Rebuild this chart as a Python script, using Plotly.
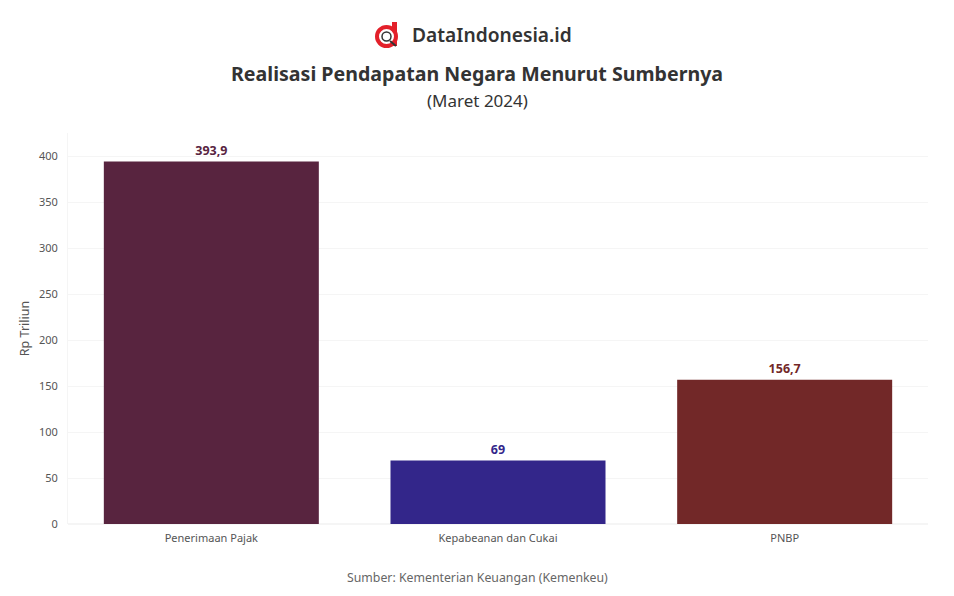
import plotly.graph_objects as go

categories = ["Penerimaan Pajak", "Kepabeanan dan Cukai", "PNBP"]
values = [393.9, 69, 156.7]
value_labels = ["393,9", "69", "156,7"]
bar_colors = ["#58243F", "#33268A", "#722828"]
y_ticks = [0, 50, 100, 150, 200, 250, 300, 350, 400]

# halaman punya margin 8px, jadi ukuran figure dikurangi
PAGE = 8
W = 954 - PAGE
H = 596 - PAGE - 8
M_L = 68 - PAGE
M_T = 133 - PAGE
M_R = 26
M_B = H - (524 - PAGE)
FONT = "Noto Sans"

fig = go.Figure(go.Bar(
    x=categories,
    y=values,
    width=0.75,
    marker=dict(color=bar_colors, line_width=0),
    text=value_labels,
    textposition="outside",
    cliponaxis=False,
    textfont=dict(family=FONT, size=12.5, color=bar_colors, weight=700),
))

fig.update_layout(
    width=W,
    height=H,
    margin=dict(l=M_L, r=M_R, t=M_T, b=M_B),
    paper_bgcolor="white",
    plot_bgcolor="white",
    font=dict(family=FONT, color="#555555"),
    showlegend=False,
)
fig.update_xaxes(
    showgrid=False,
    ticks="",
    tickfont=dict(size=11, color="#555555"),
    showline=False,
    ticklabelstandoff=6,
)
fig.update_yaxes(
    range=[0, 425],
    tickvals=y_ticks,
    gridcolor="#F5F5F5",
    zeroline=True,
    zerolinecolor="#F5F5F5",
    showline=True,
    linecolor="#F5F5F5",
    ticklabelstandoff=7,
    tickfont=dict(size=11, color="#555555"),
    title=dict(text="Rp Triliun", font=dict(size=12.5, color="#555555"), standoff=6),
)


# koordinat piksel halaman ke koordinat paper
def px(x):
    return (x - 68) / (W - M_L - M_R)


def py(y):
    return (524 - y) / (H - M_T - M_B)


def add_text(text, x, y, size, color="#333333", anchor="center", weight=None):
    fig.add_annotation(text=text, x=px(x), y=py(y), xref="paper", yref="paper",
                       xanchor=anchor, yanchor="middle", showarrow=False,
                       font=dict(size=size, color=color, weight=weight))


# judul dan sumber
add_text("DataIndonesia.id", 410, 35, 19.2, anchor="left", weight=600)
add_text("Realisasi Pendapatan Negara Menurut Sumbernya", 477, 74, 19.6, weight=700)
add_text("(Maret 2024)", 477, 100, 17)
add_text("Sumber: Kementerian Keuangan (Kemenkeu)", 477, 577, 12.3, color="#666666")

# logo
fig.add_shape(type="rect", xref="paper", yref="paper", x0=px(392), x1=px(397), y0=py(46), y1=py(22),
              fillcolor="#E3202A", line_width=0)
fig.add_shape(type="circle", xref="paper", yref="paper", x0=px(377), x1=px(396), y0=py(46), y1=py(27),
              fillcolor="white", line=dict(color="#E3202A", width=4))
fig.add_shape(type="circle", xref="paper", yref="paper", x0=px(382), x1=px(391), y0=py(41), y1=py(32),
              fillcolor="white", line=dict(color="#333333", width=1.5))
fig.add_shape(type="line", xref="paper", yref="paper", x0=px(390), x1=px(396), y0=py(41), y1=py(46),
              line=dict(color="#333333", width=2))

fig.write_html("out.html")
